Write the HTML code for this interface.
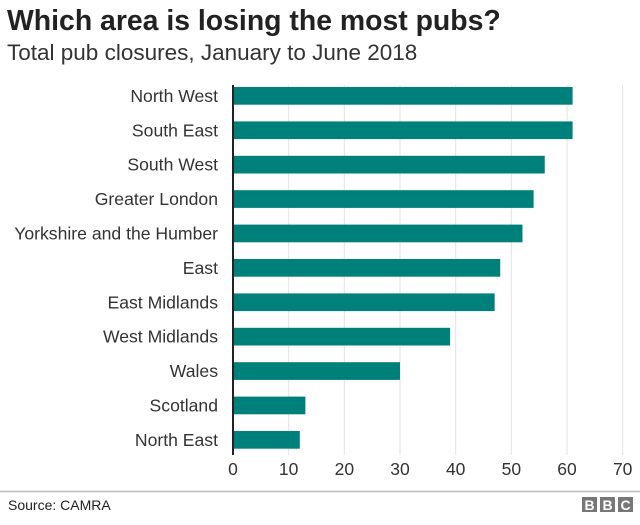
<!DOCTYPE html>
<html><head><meta charset="utf-8"><style>
body{margin:0;background:#fff;font-family:"Liberation Sans",Arial,sans-serif;}
svg text{font-family:"Liberation Sans",Arial,sans-serif;}
</style></head><body>
<svg id="chart" width="640" height="520" xmlns="http://www.w3.org/2000/svg">
<text x="7" y="30" font-size="28.4" font-weight="bold" fill="#222">Which area is losing the most pubs?</text>
<text x="7" y="60" font-size="22.5" fill="#333">Total pub closures, January to June 2018</text>
<g id="grid"></g><g id="bars"></g><g id="labels"></g><g id="ticks"></g>
<line x1="233" y1="85" x2="233" y2="455" stroke="#222" stroke-width="2"/>
<line x1="0" y1="491.5" x2="640" y2="491.5" stroke="#bbb" stroke-width="1.5"/>
<text x="8" y="510" font-size="14" fill="#222">Source: CAMRA</text>
<g>
<rect x="582" y="497" width="15" height="15" fill="#777"/><rect x="600" y="497" width="15" height="15" fill="#777"/><rect x="618" y="497" width="15" height="15" fill="#777"/>
<text x="589.5" y="510" font-size="14" font-weight="bold" fill="#fff" text-anchor="middle">B</text>
<text x="607.5" y="510" font-size="14" font-weight="bold" fill="#fff" text-anchor="middle">B</text>
<text x="625.5" y="510" font-size="14" font-weight="bold" fill="#fff" text-anchor="middle">C</text>
</g>
</svg>
<script>
const categories=["North West","South East","South West","Greater London","Yorkshire and the Humber","East","East Midlands","West Midlands","Wales","Scotland","North East"];
const values=[61,61,56,54,52,48,47,39,30,13,12];
const ticks=[0,10,20,30,40,50,60,70];
const NS="http://www.w3.org/2000/svg";
const x=v=>233+v*5.567;
const y=i=>87+i*34.4;
const bh=17.7;
function mk(t,a,p){const e=document.createElementNS(NS,t);for(const k in a)e.setAttribute(k,a[k]);document.getElementById(p).appendChild(e);return e;}
ticks.forEach(t=>{
  if(t>0){const l=mk("line",{x1:x(t),y1:85,x2:x(t),y2:455,stroke:"#e3e3e3","stroke-width":1},"grid");
  
  }
  const tx=mk("text",{x:x(t),y:475,"font-size":17.5,fill:"#333","text-anchor":"middle"},"ticks");
  tx.textContent=t;
  
  
});
categories.forEach((c,i)=>{
  const r=mk("rect",{x:233,y:y(i),width:x(values[i])-233,height:bh,fill:"#00807b"},"bars");
  
  
  const t=mk("text",{x:218,y:y(i)+bh/2+6,"font-size":17.6,fill:"#333","text-anchor":"end"},"labels");
  t.textContent=c;
  
  
});
</script>
</body></html>
